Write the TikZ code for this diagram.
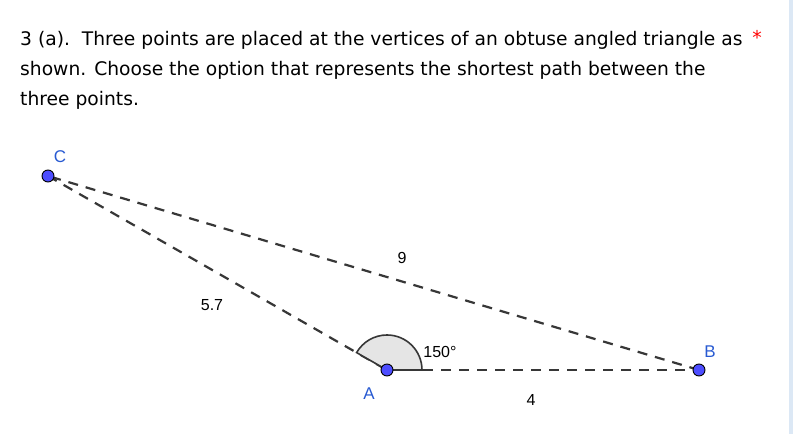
\documentclass[tikz,border=0pt]{standalone}
\usepackage{fontspec}
\setmainfont{Liberation Sans}
\newfontfamily\qfont{DejaVu Sans}
\usetikzlibrary{arrows,shapes}
\definecolor{ptblue}{RGB}{77,77,255}
\definecolor{lblblue}{RGB}{40,90,210}
\definecolor{edgegray}{RGB}{55,55,55}
\definecolor{sidebar}{RGB}{220,232,245}

\begin{document}
\begin{tikzpicture}[x=1pt,y=1pt,
  qline/.style={anchor=base west,inner sep=0pt,font=\qfont\fontsize{18.7}{21}\selectfont},
  pt/.style={circle,draw=black,line width=0.9pt,fill=ptblue,minimum size=12pt,inner sep=0pt},
  side/.style={draw=edgegray,line width=2.2pt,dash pattern=on 10pt off 8pt},
  ptlabel/.style={text=lblblue,font=\fontsize{17}{17}\selectfont,inner sep=0pt},
  numlabel/.style={text=black,font=\fontsize{16}{16}\selectfont,inner sep=0pt}]
\useasboundingbox (0,0) rectangle (793,434);
\fill[white] (0,0) rectangle (793,434);
\fill[sidebar] (789,0) rectangle (793,434);
\node[qline] (line1) at (20,388) {3 (a).\ \ Three points are placed at the vertices of an obtuse angled triangle as};
\node[inner sep=0pt,text=red,font=\qfont\fontsize{19}{19}\selectfont] (star) at (757,397) {*};
\node[qline] (line2) at (20,358) {shown. Choose the option that represents the shortest path between the};
\node[qline] (line3) at (20,328) {three points.};
\coordinate (A) at (387,64);
\coordinate (B) at (699,64);
\coordinate (C) at (48,258);
\draw[side] (A) -- (B);
\draw[side] (B) -- (C);
\draw[side] (C) -- (A);
\draw[draw=edgegray,line width=1.6pt,fill=gray!20] (A) -- ++(0:35) arc[start angle=0,end angle=150.2,radius=35] -- cycle;
\node[pt] (ptA) at (A) {};
\node[pt] (ptB) at (B) {};
\node[pt] (ptC) at (C) {};
\node[ptlabel] (lblA) at (369,40) {A};
\node[ptlabel] (lblB) at (710,82) {B};
\node[ptlabel] (lblC) at (60,277) {C};
\node[numlabel] (ang) at (440,82) {150\textdegree};
\node[numlabel] (sideBC) at (402,176) {9};
\node[numlabel] (sideAC) at (212,129) {5.7};
\node[numlabel] (sideAB) at (531,34) {4};
\end{tikzpicture}
\end{document}
